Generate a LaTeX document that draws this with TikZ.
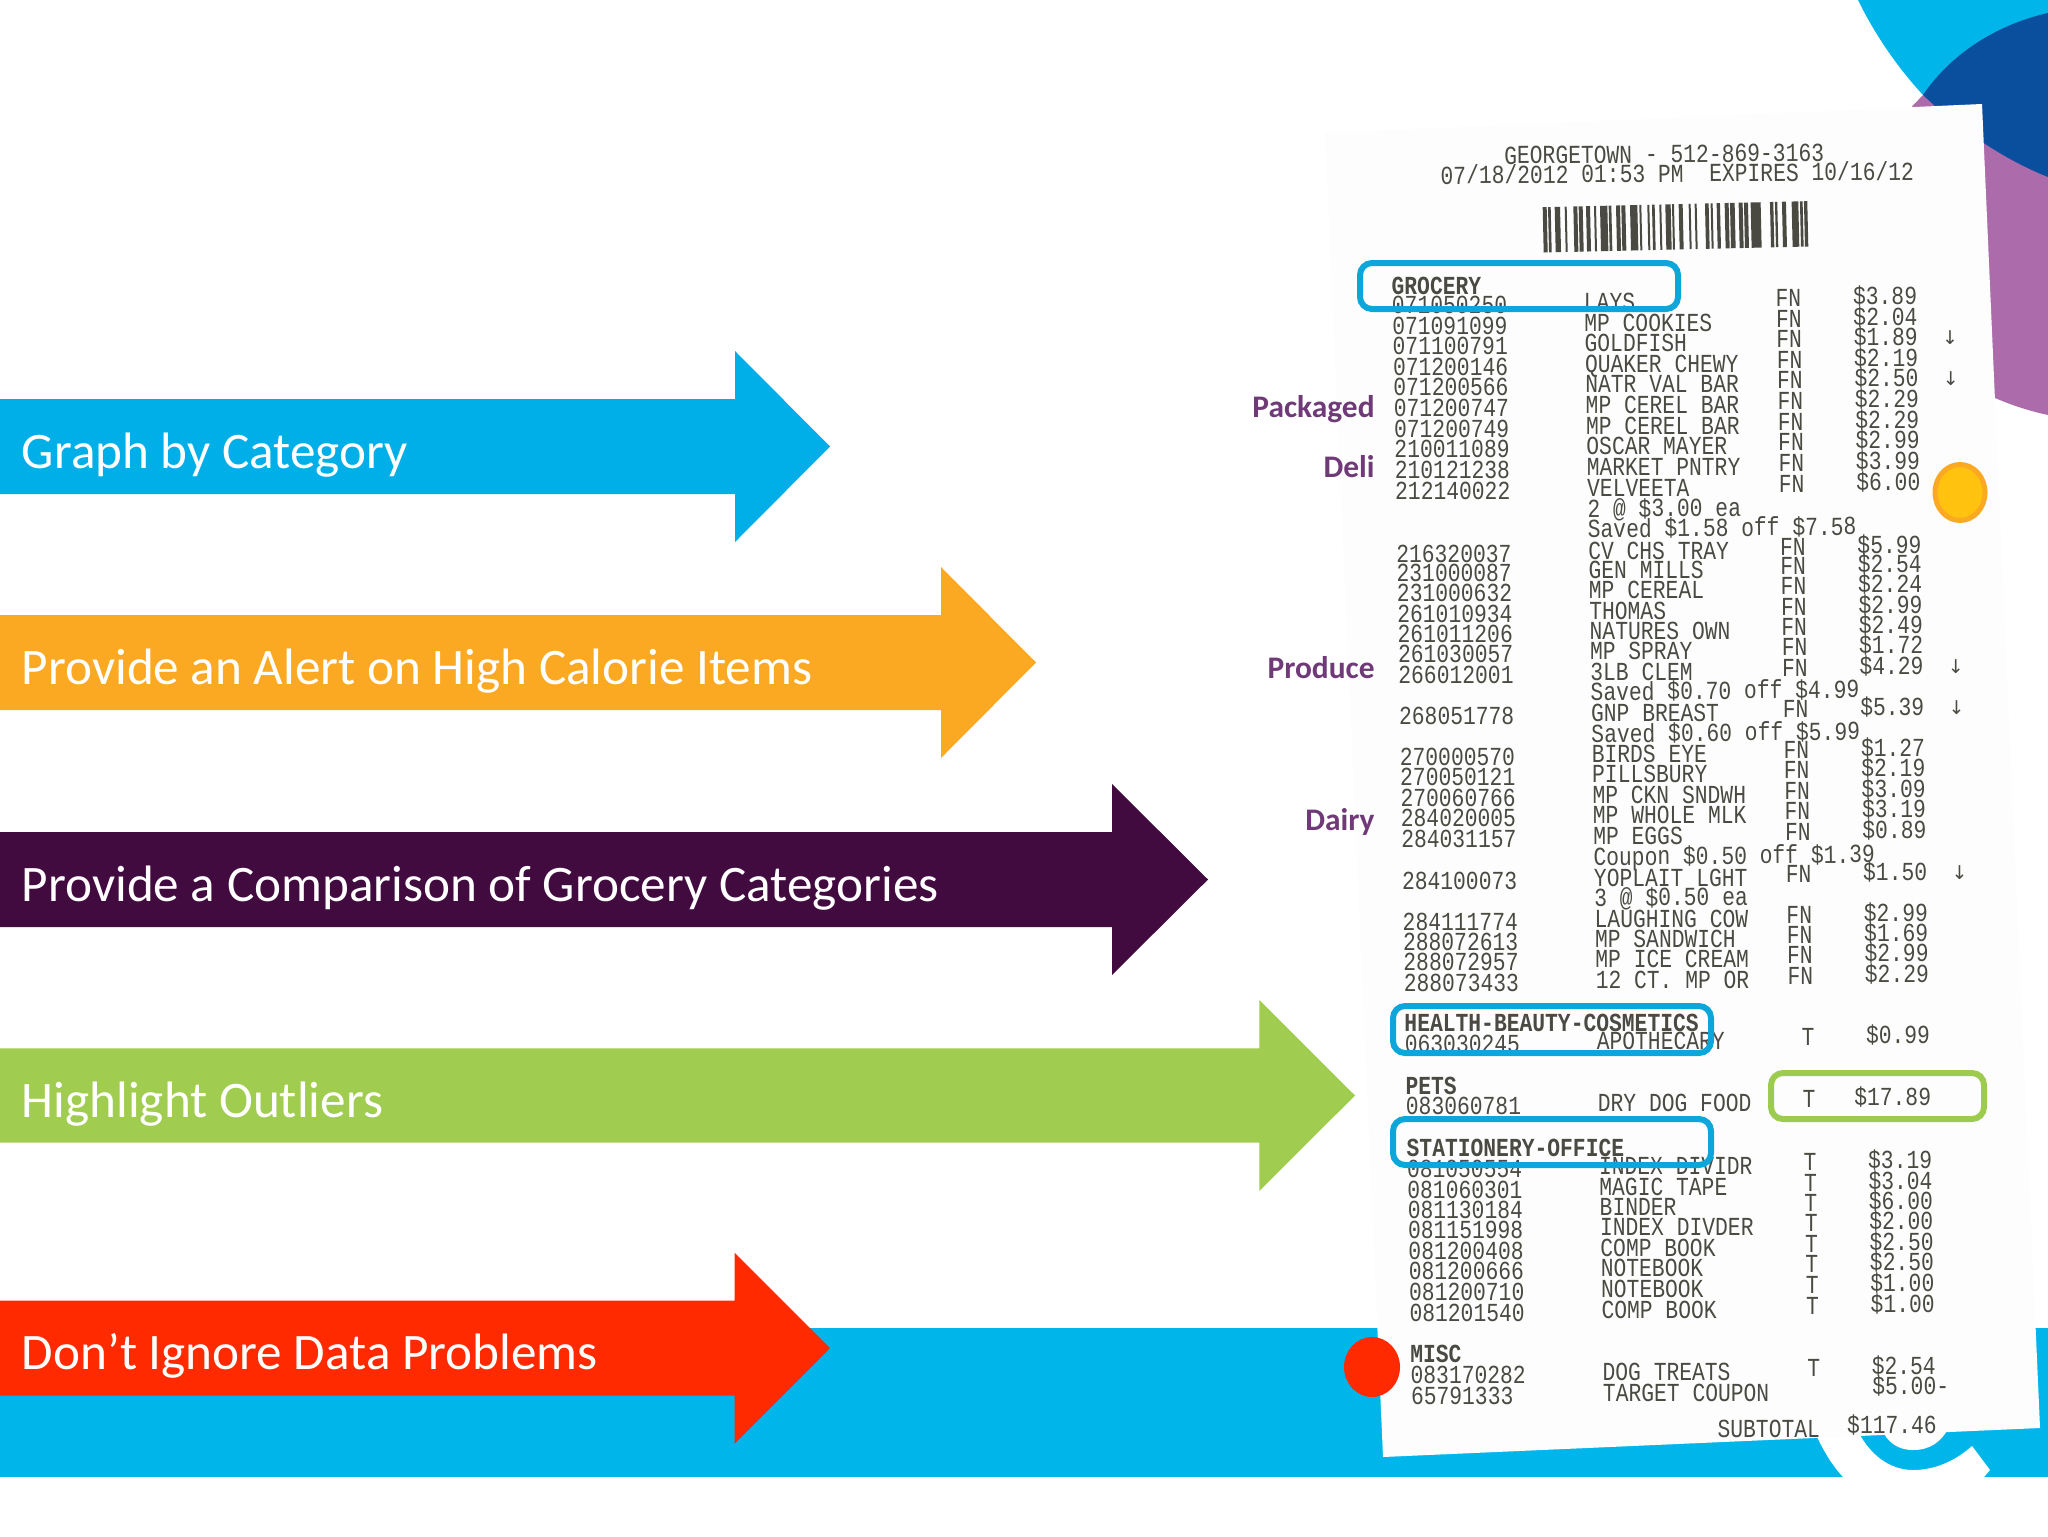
\documentclass[tikz,border=0pt]{standalone}
\usepackage{fontspec}
\setmainfont{Carlito}
\newfontfamily\rcpt[FakeStretch=0.82]{Liberation Mono}
\newfontfamily\arrowf{DejaVu Sans}
\definecolor{cblue}{HTML}{00AEE8}
\definecolor{cband}{HTML}{00B5E9}
\definecolor{corange}{HTML}{FBA922}
\definecolor{cpurple}{HTML}{420B3F}
\definecolor{cgreen}{HTML}{A0CD50}
\definecolor{cred}{HTML}{FF2A00}
\definecolor{cnavy}{HTML}{0A4F9E}
\definecolor{cviolet}{HTML}{AC6BAB}
\definecolor{clabel}{HTML}{6F3A77}
\definecolor{cbox}{HTML}{0CA6DA}
\definecolor{cgbox}{HTML}{9CCB4F}
\definecolor{cink}{HTML}{4A4A42}
\definecolor{cpaper}{HTML}{FDFDFD}
\definecolor{cyolk}{HTML}{FFC20E}
\tikzset{
  bigarrow/.style={fill=#1},
  arrowtext/.style={anchor=base west,inner sep=0pt,text=white,font=\fontsize{25.6}{30}\selectfont},
  catlabel/.style={anchor=base east,inner sep=0pt,text=clabel,font=\bfseries\fontsize{15.7}{18}\selectfont},
  rtext/.style={inner sep=0pt,text=cink,font=\rcpt\fontsize{13}{15}\selectfont},
  rhead/.style={inner sep=0pt,text=cink,font=\rcpt\bfseries\fontsize{13}{15}\selectfont},
  catbox/.style={draw=cbox,line width=3pt,rounded corners=6pt},
  outbox/.style={draw=cgbox,line width=3pt,rounded corners=6pt}
}
% one receipt row: v, number, name, tax, price
\newcommand{\rr}[5]{%
  \node[rtext,anchor=base west] (num#1) at (0,#1+8.5) {#2};
  \node[rtext,anchor=base west] (nam#1) at (192,#1+8.5) {#3};
  \node[rtext,anchor=base] (tax#1) at (397,#1+8.5) {#4};
  \node[rtext,anchor=base east] (pri#1) at (526,#1+8.5) {#5};
}
\newcommand{\tT}{\hspace*{6.5pt}T}
\newcommand{\rn}[2]{\node[rtext,anchor=base west,rotate=0.6] (sub#1) at (192,#1+9) {#2};}
\newcommand{\rh}[2]{\node[rhead,anchor=base west] (hdr#1) at (0,#1+8.5) {#2};}
\newcommand{\da}[1]{\node[inner sep=0pt,text=cink,anchor=base,font=\arrowf\fontsize{9.5}{11}\selectfont] (dwn#1) at (558,#1+8) {↓};}
\newcommand{\barrow}[7]{% colour, shaft top, shaft bottom, head x, tip x, head half height, text
  \fill[bigarrow=#1] (0,#2) -- (#4,#2) -- (#4,{(#2+#3)/2-#6}) -- (#5,{(#2+#3)/2}) -- (#4,{(#2+#3)/2+#6}) -- (#4,#3) -- (0,#3) -- cycle;
  \node[arrowtext] (txt#5x#2) at (21.5,{(#2+#3)/2+21.5}) {#7};
}
\begin{document}
\begin{tikzpicture}[x=0.5pt,y=-0.5pt]
\useasboundingbox (0,0) rectangle (2048,1536);
% bottom band with the white ring
\fill[cband] (0,1328) rectangle (2048,1477);
\fill[white] (1812,1425) .. controls (1820,1445) and (1830,1463) .. (1843,1477) -- (1984,1477) -- (1990,1470) -- (1972,1446)
  .. controls (1955,1461) and (1935,1470) .. (1913,1470) .. controls (1890,1470) and (1868,1455) .. (1855,1425) -- cycle;
\fill[white] (1880,1425) -- (1886,1437) .. controls (1893,1446) and (1902,1450) .. (1913,1450) .. controls (1930,1450) and (1942,1442) .. (1950,1425) -- cycle;
% top right circles
\fill[cviolet] (1923,95) -- (1880,140) -- (1960,380) .. controls (1985,395) and (2015,408) .. (2048,415) -- (2048,150) -- cycle;
\fill[cband] (1858,0) .. controls (1875,35) and (1898,68) .. (1923,95) -- (2048,95) -- (2048,0) -- cycle;
\fill[cnavy] (1923,95) .. controls (1950,55) and (1995,25) .. (2048,13) -- (2048,177) .. controls (2005,160) and (1960,130) .. (1923,95) -- cycle;
% receipt sheet
\fill[cpaper] (1325,133) -- (1982,104) -- (2040,1428) -- (1383,1457) -- cycle;
% receipt contents
\begin{scope}[shift={(1391,283)},rotate=1.0]
  \node[rtext,anchor=base west,rotate=0.5] (head1) at (115,-117) {GEORGETOWN - 512-869-3163};
  \node[rtext,anchor=base west,rotate=0.5] (head2) at (51,-98) {07/18/2012 01:53 PM~~EXPIRES 10/16/12};
  \rh{3}{GROCERY}
  \rr{22}{071050250}{LAYS}{FN}{\$3.89}
  \rr{43}{071091099}{MP COOKIES}{FN}{\$2.04}
  \rr{63}{071100791}{GOLDFISH}{FN}{\$1.89}\da{63}
  \rr{84}{071200146}{QUAKER CHEWY}{FN}{\$2.19}
  \rr{104}{071200566}{NATR VAL BAR}{FN}{\$2.50}\da{104}
  \rr{125}{071200747}{MP CEREL BAR}{FN}{\$2.29}
  \rr{146}{071200749}{MP CEREL BAR}{FN}{\$2.29}
  \rr{166}{210011089}{OSCAR MAYER}{FN}{\$2.99}
  \rr{187}{210121238}{MARKET PNTRY}{FN}{\$3.99}
  \rr{208}{212140022}{VELVEETA}{FN}{\$6.00}
  \rn{229}{2 @ \$3.00 ea}
  \rn{249}{Saved \$1.58 off \$7.58}
  \rr{271}{216320037}{CV CHS TRAY}{FN}{\$5.99}
  \rr{290}{231000087}{GEN MILLS}{FN}{\$2.54}
  \rr{310}{231000632}{MP CEREAL}{FN}{\$2.24}
  \rr{331}{261010934}{THOMAS}{FN}{\$2.99}
  \rr{351}{261011206}{NATURES OWN}{FN}{\$2.49}
  \rr{371}{261030057}{MP SPRAY}{FN}{\$1.72}
  \rr{392}{266012001}{3LB CLEM}{FN}{\$4.29}\da{392}
  \rn{412}{Saved \$0.70 off \$4.99}
  \rr{433}{268051778}{GNP BREAST}{FN}{\$5.39}\da{433}
  \rn{454}{Saved \$0.60 off \$5.99}
  \rr{474}{270000570}{BIRDS EYE}{FN}{\$1.27}
  \rr{494}{270050121}{PILLSBURY}{FN}{\$2.19}
  \rr{515}{270060766}{MP CKN SNDWH}{FN}{\$3.09}
  \rr{535}{284020005}{MP WHOLE MLK}{FN}{\$3.19}
  \rr{556}{284031157}{MP EGGS}{FN}{\$0.89}
  \rn{577}{Coupon \$0.50 off \$1.39}
  \rr{598}{284100073}{YOPLAIT LGHT}{FN}{\$1.50}\da{598}
  \rn{618}{3 @ \$0.50 ea}
  \rr{639}{284111774}{LAUGHING COW}{FN}{\$2.99}
  \rr{659}{288072613}{MP SANDWICH}{FN}{\$1.69}
  \rr{679}{288072957}{MP ICE CREAM}{FN}{\$2.99}
  \rr{700}{288073433}{12 CT. MP OR}{FN}{\$2.29}
  \rh{740}{HEALTH-BEAUTY-COSMETICS}
  \rr{761}{063030245}{APOTHECARY}{\tT}{\$0.99}
  \rh{803}{PETS}
  \rr{823}{083060781}{DRY DOG FOOD}{\tT}{\$17.89}
  \rh{865}{STATIONERY-OFFICE}
  \rr{886}{081050554}{INDEX DIVIDR}{\tT}{\$3.19}
  \rr{907}{081060301}{MAGIC TAPE}{\tT}{\$3.04}
  \rr{927}{081130184}{BINDER}{\tT}{\$6.00}
  \rr{947}{081151998}{INDEX DIVDER}{\tT}{\$2.00}
  \rr{968}{081200408}{COMP BOOK}{\tT}{\$2.50}
  \rr{988}{081200666}{NOTEBOOK}{\tT}{\$2.50}
  \rr{1009}{081200710}{NOTEBOOK}{\tT}{\$1.00}
  \rr{1030}{081201540}{COMP BOOK}{\tT}{\$1.00}
  \rh{1071}{MISC}
  \rr{1092}{083170282}{DOG TREATS}{\tT}{\$2.54}
  \node[rtext,anchor=base west] (num1113) at (0,1121.5) {65791333};
  \node[rtext,anchor=base west] (nam1113) at (192,1121.5) {TARGET COUPON};
  \node[rtext,anchor=base east] (pri1113) at (539,1121.5) {\$5.00-};
  \node[rtext,anchor=base west] (subl) at (306,1159.5) {SUBTOTAL};
  \node[rtext,anchor=base east] (subv) at (526,1159.5) {\$117.46};
\end{scope}
% barcode
\begin{scope}[shift={(1520,207.7)},rotate=1.3,x=0.16667pt,y=-0.16667pt]
  \foreach \a/\b in {68/80,84/92,104/120,134/140,160/172,176/188,198/210,222/228,240/262,266/274,288/300,304/316,330/352,358/364,382/388,396/404,418/424,436/452,456/462,476/488,506/512,524/530,555/566,572/578,590/600,614/626,630/644,656/668,672/684,692/722,750/760,765/772,786/798,815/835,840/848,852/862}
    \fill[cink] (\a,0) rectangle (\b,136);
\end{scope}
% highlight boxes
\draw[catbox] (1360,263) rectangle (1678,309);
\draw[catbox] (1393,1006) rectangle (1711,1053);
\draw[catbox] (1393,1119) rectangle (1711,1165);
\draw[outbox] (1771,1073) rectangle (1984,1119);
% ovals
\draw[draw=corange,fill=cyolk,line width=2.5pt] (1960,492.5) ellipse [x radius=25,y radius=28];
\fill[cred] (1372,1367) ellipse [x radius=28,y radius=30];
% arrows
\barrow{cblue}{399}{494}{735}{830}{95.5}{Graph by Category}
\barrow{corange}{615}{710}{941}{1036}{95.5}{Provide an Alert on High Calorie Items}
\barrow{cpurple}{832}{927}{1112}{1208}{95.5}{Provide a Comparison of Grocery Categories}
\barrow{cgreen}{1048.3}{1142.7}{1259.3}{1355}{95.5}{Highlight Outliers}
\barrow{cred}{1300.7}{1395.7}{734.7}{830}{95.5}{Don’t Ignore Data Problems}
% category labels
\node[catlabel] (packaged) at (1375,417) {Packaged};
\node[catlabel] (deli) at (1375,477) {Deli};
\node[catlabel] (produce) at (1375,678) {Produce};
\node[catlabel] (dairy) at (1375,830) {Dairy};
\end{tikzpicture}
\end{document}
